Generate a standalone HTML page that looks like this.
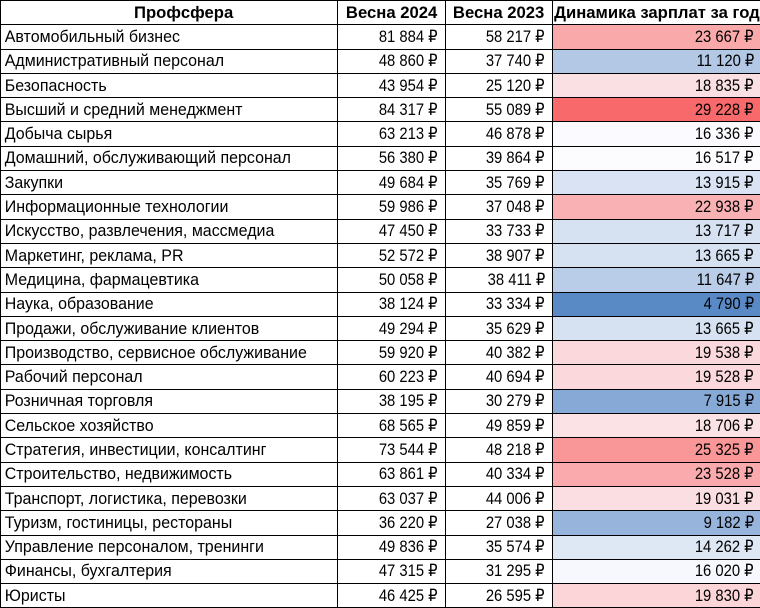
<!DOCTYPE html>
<html><head><meta charset="utf-8">
<style>
body{margin:0;background:#fff;width:760px;height:608px;overflow:hidden;font-family:"Liberation Sans",sans-serif;}
table{border-collapse:collapse;position:absolute;left:0;top:0;table-layout:fixed;width:761px;}
td,th{border:1px solid #000;height:23.3px;padding:0;font-size:17px;color:#000;white-space:nowrap;overflow:hidden;line-height:22px}
th{font-weight:bold;}
.t{display:inline-block;transform:scaleX(0.9);}
.l .t{transform-origin:left center;padding-left:4px;transform:scaleX(0.94)}
.r{text-align:right}
.r .t{transform-origin:right center;padding-right:8px;transform:scaleX(0.87)}
th .t{transform-origin:center center;transform:scaleX(0.98)}
</style></head><body>
<table id="tbl">
<colgroup><col style="width:337px"><col style="width:108px"><col style="width:107px"><col style="width:209px"></colgroup>
<thead><tr>
<th style="text-align:center;padding-left:30px"><span class="t">Профсфера</span></th>
<th><span class="t">Весна 2024</span></th>
<th><span class="t">Весна 2023</span></th>
<th style="white-space:nowrap"><span class="t" style="margin-left:-30px;margin-right:-30px">Динамика зарплат за год</span></th>
</tr></thead>
<tbody id="tb"></tbody></table>
<script>
const categories=["Автомобильный бизнес","Административный персонал","Безопасность","Высший и средний менеджмент","Добыча сырья","Домашний, обслуживающий персонал","Закупки","Информационные технологии","Искусство, развлечения, массмедиа","Маркетинг, реклама, PR","Медицина, фармацевтика","Наука, образование","Продажи, обслуживание клиентов","Производство, сервисное обслуживание","Рабочий персонал","Розничная торговля","Сельское хозяйство","Стратегия, инвестиции, консалтинг","Строительство, недвижимость","Транспорт, логистика, перевозки","Туризм, гостиницы, рестораны","Управление персоналом, тренинги","Финансы, бухгалтерия","Юристы"];
const spring2024=[81884,48860,43954,84317,63213,56380,49684,59986,47450,52572,50058,38124,49294,59920,60223,38195,68565,73544,63861,63037,36220,49836,47315,46425];
const spring2023=[58217,37740,25120,55089,46878,39864,35769,37048,33733,38907,38411,33334,35629,40382,40694,30279,49859,48218,40334,44006,27038,35574,31295,26595];
const dynamics=[23667,11120,18835,29228,16336,16517,13915,22938,13717,13665,11647,4790,13665,19538,19528,7915,18706,25325,23528,19031,9182,14262,16020,19830];
function fmt(v){return String(v).replace(/\B(?=(\d{3})+(?!\d))/g,' ')+' ₽';}
function colorFor(v){
  const s=[...dynamics].sort((a,b)=>a-b);const n=s.length;
  const med=n%2?s[(n-1)/2]:(s[n/2-1]+s[n/2])/2;
  const mn=s[0],mx=s[n-1];
  const lo=[90,138,198],mid=[252,252,255],hi=[248,105,107];
  let a,b,t;
  if(v<=med){t=(v-mn)/((med-mn)||1);a=lo;b=mid;}else{t=(v-med)/((mx-med)||1);a=mid;b=hi;}
  const c=a.map((x,i)=>Math.round(x+(b[i]-x)*t));
  return `rgb(${c[0]},${c[1]},${c[2]})`;
}
const tb=document.getElementById('tb');
categories.forEach((c,i)=>{
  const tr=document.createElement('tr');
  
  
  const cells=[[c,'l','category-cell'],[fmt(spring2024[i]),'r','spring-2024-cell'],[fmt(spring2023[i]),'r','spring-2023-cell'],[fmt(dynamics[i]),'r','dynamics-cell']];
  cells.forEach((d,j)=>{
    const td=document.createElement('td');
    
    
    td.className=d[1];
    if(j===3)td.style.background=colorFor(dynamics[i]);
    const sp=document.createElement('span');sp.className='t';sp.textContent=d[0];
    td.appendChild(sp);tr.appendChild(td);
  });
  tb.appendChild(tr);
});
</script>
</body></html>
